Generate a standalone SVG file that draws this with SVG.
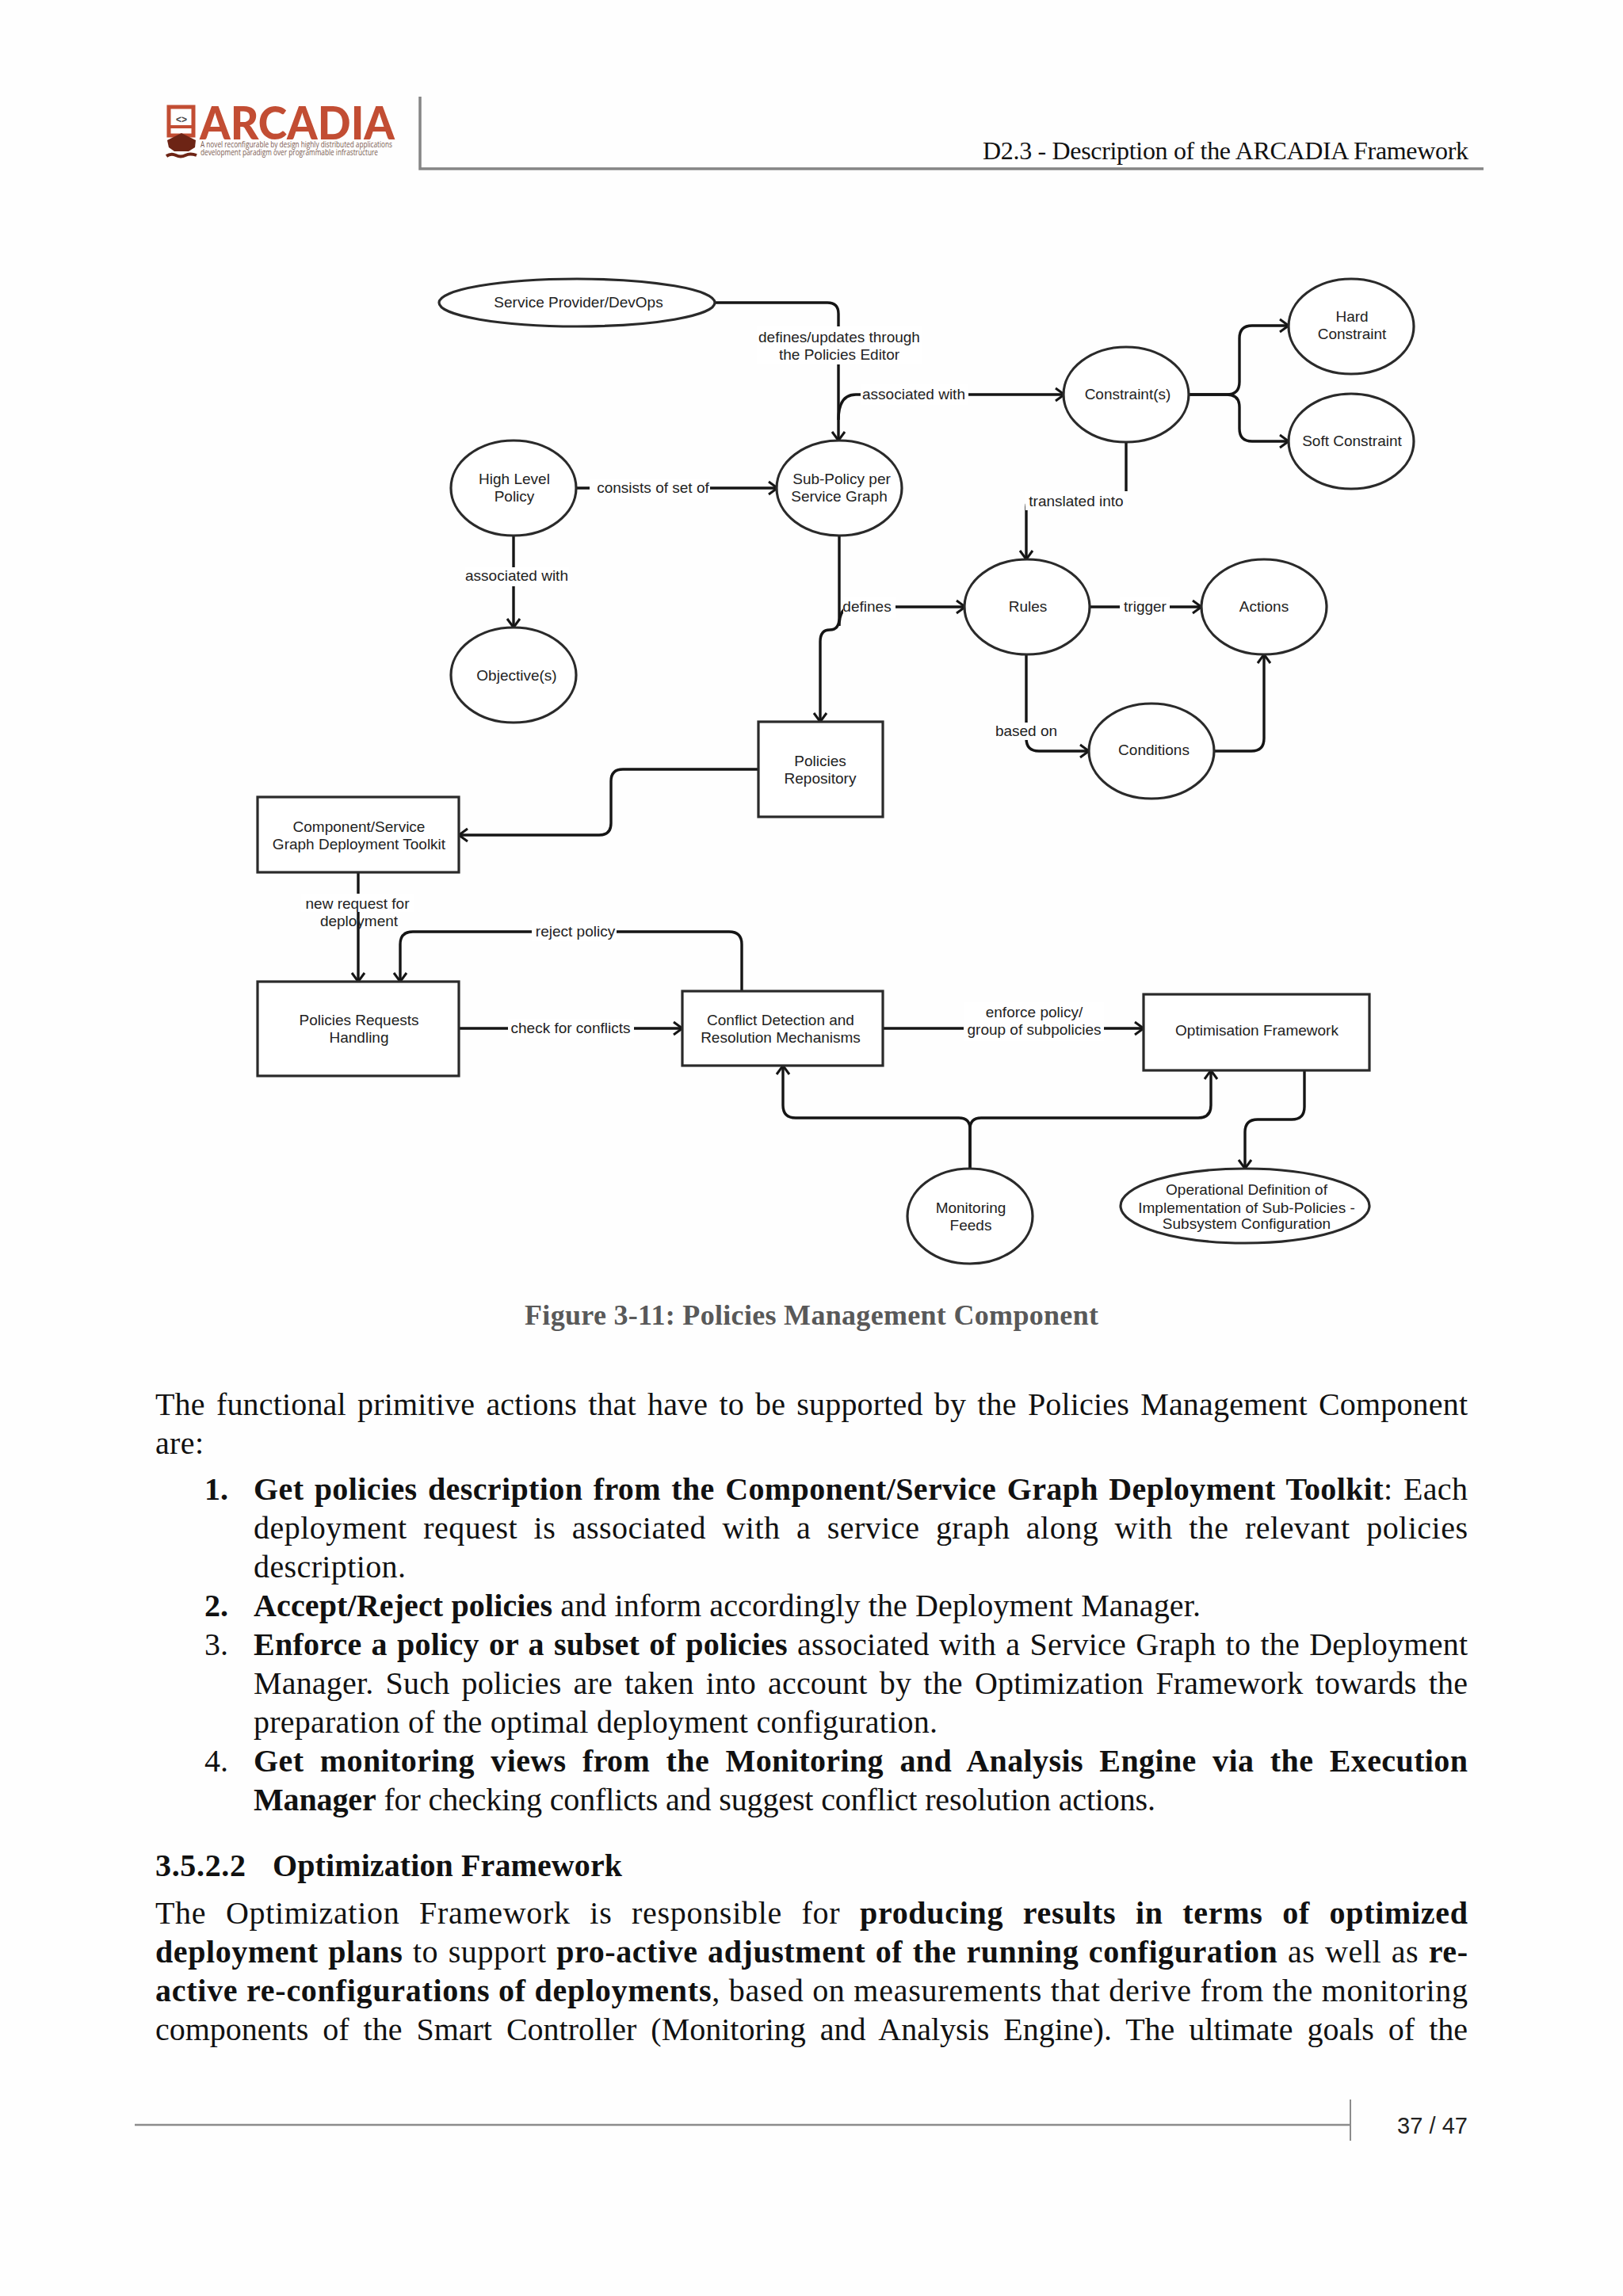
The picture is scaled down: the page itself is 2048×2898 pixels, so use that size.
<svg xmlns="http://www.w3.org/2000/svg" width="2048" height="2898" viewBox="0 0 2048 2898">
<style>
.n{fill:#fff;stroke:#2a2a2a;stroke-width:3.2}
.t{font-family:"Liberation Sans",Arial,sans-serif;font-size:19px;fill:#222;text-anchor:middle}
.c{fill:none;stroke:#151515;stroke-width:3.4;stroke-linejoin:round}
.lb{fill:#fff;stroke:none}
.b{font-family:"Liberation Serif","Times New Roman",serif;font-size:40px;fill:#111}
.h{font-weight:700}
</style>
<defs>
<marker id="a" markerUnits="userSpaceOnUse" markerWidth="18" markerHeight="22" refX="14" refY="11" orient="auto"><path d="M3 3 L14 11 L3 19" fill="none" stroke="#151515" stroke-width="3"/></marker>
</defs>
<rect width="2048" height="2898" fill="#fefefe"/>
<g id="page-header">
<path d="M530 122 V213 H1872" fill="none" stroke="#858585" stroke-width="3.5"/>
<rect x="213" y="135" width="31" height="36" fill="#fff" stroke="#c24d33" stroke-width="5"/>
<path d="M213 160 H244" stroke="#c24d33" stroke-width="4"/>
<text x="229" y="155" font-family="Liberation Sans,sans-serif" font-weight="700" font-size="12" fill="#444" text-anchor="middle">&lt;&gt;</text>
<path d="M211 177 L229 168 L247 177 L246 186 L238 191 H220 L213 186 Z" fill="#6d2415"/>
<path d="M210 197 Q216 193 222 196 T234 196 T248 196" fill="none" stroke="#6d2415" stroke-width="4"/>
<text x="252" y="176" font-family="Lato,Liberation Sans,sans-serif" font-weight="900" font-size="57" fill="#c24d33" textLength="246" lengthAdjust="spacingAndGlyphs">ARCADIA</text>
<text x="253" y="186" font-family="Open Sans,Liberation Sans,sans-serif" font-size="10" fill="#7a5a50" textLength="242" lengthAdjust="spacingAndGlyphs">A novel reconfigurable by design highly distributed applications</text>
<text x="253" y="196" font-family="Open Sans,Liberation Sans,sans-serif" font-size="10" fill="#7a5a50" textLength="224" lengthAdjust="spacingAndGlyphs">development paradigm over programmable infrastructure</text>
<text class="b" x="1240" y="201" style="font-size:32px" textLength="613">D2.3 - Description of the ARCADIA Framework</text>
</g>
<g id="connectors">
<path class="c" marker-end="url(#a)" d="M902 382 H1044 Q1058 382 1058 396 V556"/>
<path class="c" marker-end="url(#a)" d="M1058 530 Q1058 498 1080 498 H1343"/>
<path class="c" marker-end="url(#a)" d="M1499 498 H1548 Q1564 498 1564 482 V427 Q1564 411 1580 411 H1626"/>
<path class="c" marker-end="url(#a)" d="M1499 498 H1548 Q1564 498 1564 514 V541 Q1564 557 1580 557 H1626"/>
<path class="c" marker-end="url(#a)" d="M1421 557 V632 H1303 Q1295 632 1295 640 V706"/>
<path class="c" marker-end="url(#a)" d="M726 616 H981"/>
<path class="c" marker-end="url(#a)" d="M648 676 V792"/>
<path class="c" marker-end="url(#a)" d="M1059 676 V780 Q1059 795 1047 795 Q1035 795 1035 810 V911"/>
<path class="c" marker-end="url(#a)" d="M1059 790 Q1059 766 1075 766 H1218"/>
<path class="c" marker-end="url(#a)" d="M1373 766 H1516"/>
<path class="c" marker-end="url(#a)" d="M1295 825 V932 Q1295 948 1311 948 H1374"/>
<path class="c" marker-end="url(#a)" d="M1532 948 H1579 Q1595 948 1595 932 V826"/>
<path class="c" marker-end="url(#a)" d="M957 971 H786 Q771 971 771 986 V1039 Q771 1054 756 1054 H579"/>
<path class="c" marker-end="url(#a)" d="M452 1101 V1239"/>
<path class="c" marker-end="url(#a)" d="M936 1251 V1192 Q936 1176 920 1176 H521 Q505 1176 505 1192 V1239"/>
<path class="c" marker-end="url(#a)" d="M579 1298 H861"/>
<path class="c" marker-end="url(#a)" d="M1114 1298 H1443"/>
<path class="c" marker-end="url(#a)" d="M1224 1475 V1425 Q1224 1411 1210 1411 H1004 Q988 1411 988 1395 V1345"/>
<path class="c" marker-end="url(#a)" d="M1224 1475 V1425 Q1224 1411 1238 1411 H1512 Q1528 1411 1528 1395 V1351"/>
<path class="c" marker-end="url(#a)" d="M1646 1351 V1397 Q1646 1413 1630 1413 H1587 Q1571 1413 1571 1429 V1475"/>
</g>
<g id="connector-labels">
<rect class="lb" x="955" y="412" width="208" height="48"/><text class="t" x="1059" y="431.500">defines/updates through</text><text class="t" x="1059" y="453.500">the Policies Editor</text>
<rect class="lb" x="1086" y="485" width="136" height="26"/><text class="t" x="1153" y="503.500">associated with</text>
<rect class="lb" x="1294" y="620" width="130" height="24"/><text class="t" x="1358" y="638.500">translated into</text>
<rect class="lb" x="744" y="604" width="152" height="26"/><text class="t" x="824" y="622">consists of set of</text>
<rect class="lb" x="587" y="716" width="131" height="24"/><text class="t" x="652" y="733">associated with</text>
<rect class="lb" x="1064" y="754" width="66" height="26"/><text class="t" x="1094" y="772">defines</text>
<rect class="lb" x="1413" y="754" width="63" height="26"/><text class="t" x="1445" y="772">trigger</text>
<rect class="lb" x="1256" y="912" width="80" height="22"/><text class="t" x="1295" y="929">based on</text>
<rect class="lb" x="380" y="1128" width="142" height="23"/><text class="t" x="451" y="1147">new request for</text><text class="t" x="453" y="1169">deployment</text>
<rect class="lb" x="671" y="1164" width="107" height="24"/><text class="t" x="726" y="1182">reject policy</text>
<rect class="lb" x="641" y="1286" width="159" height="24"/><text class="t" x="720" y="1304">check for conflicts</text>
<rect class="lb" x="1216" y="1265" width="177" height="49"/><text class="t" x="1305" y="1283.500">enforce policy/</text><text class="t" x="1305" y="1305.500">group of subpolicies</text>
</g>
<g id="service-provider"><ellipse class="n" cx="728" cy="382" rx="174" ry="30"/><text class="t" x="730" y="387.500">Service Provider/DevOps</text></g>
<g id="hard-constraint"><ellipse class="n" cx="1705" cy="412" rx="79" ry="60"/><text class="t" x="1706" y="405.500">Hard</text><text class="t" x="1706" y="428">Constraint</text></g>
<g id="soft-constraint"><ellipse class="n" cx="1705" cy="557" rx="79" ry="60"/><text class="t" x="1706" y="563">Soft Constraint</text></g>
<g id="constraints"><ellipse class="n" cx="1421" cy="498" rx="79" ry="60"/><text class="t" x="1423" y="503.500">Constraint(s)</text></g>
<g id="high-level-policy"><ellipse class="n" cx="648" cy="616" rx="79" ry="60"/><text class="t" x="649" y="611">High Level</text><text class="t" x="649" y="633">Policy</text></g>
<g id="sub-policy"><ellipse class="n" cx="1059" cy="616" rx="79" ry="60"/><text class="t" x="1062" y="611">Sub-Policy per</text><text class="t" x="1059" y="633">Service Graph</text></g>
<g id="rules"><ellipse class="n" cx="1296" cy="766" rx="79" ry="60"/><text class="t" x="1297" y="772">Rules</text></g>
<g id="actions"><ellipse class="n" cx="1595" cy="766" rx="79" ry="60"/><text class="t" x="1595" y="772">Actions</text></g>
<g id="objectives"><ellipse class="n" cx="648" cy="852" rx="79" ry="60"/><text class="t" x="652" y="858.500">Objective(s)</text></g>
<g id="conditions"><ellipse class="n" cx="1453" cy="948" rx="79" ry="60"/><text class="t" x="1456" y="953">Conditions</text></g>
<g id="policies-repository"><rect class="n" x="957" y="911" width="157" height="120"/><text class="t" x="1035" y="967">Policies</text><text class="t" x="1035" y="989">Repository</text></g>
<g id="deployment-toolkit"><rect class="n" x="325" y="1006" width="254" height="95"/><text class="t" x="453" y="1050">Component/Service</text><text class="t" x="453" y="1072">Graph Deployment Toolkit</text></g>
<g id="requests-handling"><rect class="n" x="325" y="1239" width="254" height="119"/><text class="t" x="453" y="1294">Policies Requests</text><text class="t" x="453" y="1316">Handling</text></g>
<g id="conflict-detection"><rect class="n" x="861" y="1251" width="253" height="94"/><text class="t" x="985" y="1294">Conflict Detection and</text><text class="t" x="985" y="1316">Resolution Mechanisms</text></g>
<g id="optimisation-framework"><rect class="n" x="1443" y="1255" width="285" height="96"/><text class="t" x="1586" y="1307">Optimisation Framework</text></g>
<g id="monitoring-feeds"><ellipse class="n" cx="1224" cy="1535" rx="79" ry="60"/><text class="t" x="1225" y="1531">Monitoring</text><text class="t" x="1225" y="1553">Feeds</text></g>
<g id="operational-definition"><ellipse class="n" cx="1571" cy="1522" rx="157" ry="47"/><text class="t" x="1573" y="1508">Operational Definition of</text><text class="t" x="1573" y="1531">Implementation of Sub-Policies -</text><text class="t" x="1573" y="1551">Subsystem Configuration</text></g>
<g id="page-text">
<text class="b h" x="662" y="1672" style="font-size:36px;fill:#595959" textLength="724">Figure 3-11: Policies Management Component</text>
<text class="b" x="196" y="1786" word-spacing="4" textLength="1656">The functional primitive actions that have to be supported by the Policies Management Component</text>
<text class="b" x="196" y="1834.500" textLength="61">are:</text>
<text class="b h" x="258" y="1893">1.</text>
<text class="b" x="320" y="1893" word-spacing="3" textLength="1532"><tspan class="h">Get policies description from the Component/Service Graph Deployment Toolkit</tspan>: Each</text>
<text class="b" x="320" y="1942" word-spacing="10" textLength="1532">deployment request is associated with a service graph along with the relevant policies</text>
<text class="b" x="320" y="1991" textLength="192">description.</text>
<text class="b h" x="258" y="2040">2.</text>
<text class="b" x="320" y="2040" textLength="1195"><tspan class="h">Accept/Reject policies</tspan> and inform accordingly the Deployment Manager.</text>
<text class="b" x="258" y="2089">3.</text>
<text class="b" x="320" y="2089" word-spacing="2" textLength="1532"><tspan class="h">Enforce a policy or a subset of policies</tspan> associated with a Service Graph to the Deployment</text>
<text class="b" x="320" y="2138" word-spacing="5" textLength="1532">Manager. Such policies are taken into account by the Optimization Framework towards the</text>
<text class="b" x="320" y="2187" textLength="863">preparation of the optimal deployment configuration.</text>
<text class="b" x="258" y="2236">4.</text>
<text class="b" x="320" y="2236" word-spacing="10" textLength="1532"><tspan class="h">Get monitoring views from the Monitoring and Analysis Engine via the Execution</tspan></text>
<text class="b" x="320" y="2285" textLength="1138"><tspan class="h">Manager</tspan> for checking conflicts and suggest conflict resolution actions.</text>
<text class="b h" x="196" y="2368" textLength="114">3.5.2.2</text>
<text class="b h" x="344" y="2368" textLength="441">Optimization Framework</text>
<text class="b" x="196" y="2428" word-spacing="14" textLength="1656">The Optimization Framework is responsible for <tspan class="h">producing results in terms of optimized</tspan></text>
<text class="b" x="196" y="2477" word-spacing="2" textLength="1656"><tspan class="h">deployment plans</tspan> to support <tspan class="h">pro-active adjustment of the running configuration</tspan> as well as <tspan class="h">re-</tspan></text>
<text class="b" x="196" y="2526" textLength="1656"><tspan class="h">active re-configurations of deployments</tspan>, based on measurements that derive from the monitoring</text>
<text class="b" x="196" y="2575" word-spacing="8" textLength="1656">components of the Smart Controller (Monitoring and Analysis Engine). The ultimate goals of the</text>
</g>
<g id="page-footer">
<path d="M170 2682 H1704" stroke="#8c8c8c" stroke-width="2.500" fill="none"/>
<path d="M1704 2650 V2702" stroke="#8c8c8c" stroke-width="2" fill="none"/>
<text x="1763" y="2693" font-family="Liberation Sans,Arial,sans-serif" font-size="29" fill="#222" textLength="89">37 / 47</text>
</g>
</svg>
